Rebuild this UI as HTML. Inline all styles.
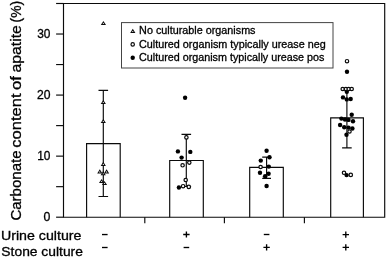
<!DOCTYPE html>
<html><head><meta charset="utf-8"><title>Carbonate content of apatite</title>
<style>
html,body{margin:0;padding:0;background:#fff}
svg{display:block}
text{font-family:"Liberation Sans",sans-serif;fill:#000;stroke:#000;stroke-width:0.3px}
</style></head><body>
<svg width="387" height="258" viewBox="0 0 387 258">
<rect width="387" height="258" fill="#fff"/>
<path d="M63.5 3.5H384.7V217.2H63.5Z" fill="none" stroke="#0a0a0a" stroke-width="1.15"/>
<path d="M56.1 217.20H63.5" stroke="#0a0a0a" stroke-width="1.15"/>
<path d="M56.1 186.67H63.5" stroke="#0a0a0a" stroke-width="1.15"/>
<path d="M56.1 156.14H63.5" stroke="#0a0a0a" stroke-width="1.15"/>
<path d="M56.1 125.61H63.5" stroke="#0a0a0a" stroke-width="1.15"/>
<path d="M56.1 95.08H63.5" stroke="#0a0a0a" stroke-width="1.15"/>
<path d="M56.1 64.55H63.5" stroke="#0a0a0a" stroke-width="1.15"/>
<path d="M56.1 34.02H63.5" stroke="#0a0a0a" stroke-width="1.15"/>
<path d="M56.1 3.49H63.5" stroke="#0a0a0a" stroke-width="1.15"/>
<path d="M144.8 217.2V223.3" stroke="#0a0a0a" stroke-width="1.15"/>
<path d="M224.4 217.2V223.3" stroke="#0a0a0a" stroke-width="1.15"/>
<path d="M304.4 217.2V223.3" stroke="#0a0a0a" stroke-width="1.15"/>
<text x="43.62" y="221.1" font-size="12.2" textLength="6.86" lengthAdjust="spacingAndGlyphs">0</text>
<text x="37.17" y="160.0" font-size="12.2" textLength="13.24" lengthAdjust="spacingAndGlyphs">10</text>
<text x="36.9" y="99.0" font-size="12.2" textLength="13.51" lengthAdjust="spacingAndGlyphs">20</text>
<text x="37.16" y="37.9" font-size="12.2" textLength="13.25" lengthAdjust="spacingAndGlyphs">30</text>
<text transform="translate(21.2,220.0) rotate(-90)" x="-0.63" y="0" font-size="14.9" textLength="70.18" lengthAdjust="spacingAndGlyphs">Carbonate</text>
<text transform="translate(21.2,147.1) rotate(-90)" x="-0.55" y="0" font-size="14.9" textLength="54.14" lengthAdjust="spacingAndGlyphs">content</text>
<text transform="translate(21.2,89.5) rotate(-90)" x="-0.56" y="0" font-size="14.9" textLength="14.04" lengthAdjust="spacingAndGlyphs">of</text>
<text transform="translate(21.2,72.1) rotate(-90)" x="-0.53" y="0" font-size="14.9" textLength="47.53" lengthAdjust="spacingAndGlyphs">apatite</text>
<text transform="translate(21.2,21.7) rotate(-90)" x="-0.7" y="0" font-size="14.9" textLength="21.54" lengthAdjust="spacingAndGlyphs">(%)</text>
<path d="M86.6 217.2V143.6H120.2V217.2" fill="none" stroke="#0a0a0a" stroke-width="1.15"/>
<path d="M169.7 217.2V160.5H203.3V217.2" fill="none" stroke="#0a0a0a" stroke-width="1.15"/>
<path d="M249.7 217.2V167.4H283.3V217.2" fill="none" stroke="#0a0a0a" stroke-width="1.15"/>
<path d="M330.7 217.2V117.9H363.4V217.2" fill="none" stroke="#0a0a0a" stroke-width="1.15"/>
<path d="M103.3 90.3V196.5M98.5 90.3H108.1M98.5 196.5H108.1" fill="none" stroke="#0a0a0a" stroke-width="1.15"/>
<path d="M186.3 134.3V186.5M181.5 134.3H191.10000000000002M181.5 186.5H191.10000000000002" fill="none" stroke="#0a0a0a" stroke-width="1.15"/>
<path d="M266.6 157.1V178.4M262.20000000000005 157.1H271.0M262.20000000000005 178.4H271.0" fill="none" stroke="#0a0a0a" stroke-width="1.15"/>
<path d="M346.9 89.8V147.9M342.09999999999997 89.8H351.7M342.09999999999997 147.9H351.7" fill="none" stroke="#0a0a0a" stroke-width="1.15"/>
<path d="M103.40 20.90L100.80 25.10L106.00 25.10Z" fill="#0a0a0a"/><path d="M103.40 22.80L102.60 24.10L104.20 24.10Z" fill="#fff"/>
<path d="M103.30 99.90L100.70 104.10L105.90 104.10Z" fill="#0a0a0a"/><path d="M103.30 101.80L102.50 103.10L104.10 103.10Z" fill="#fff"/>
<path d="M103.30 118.90L100.70 123.10L105.90 123.10Z" fill="#0a0a0a"/><path d="M103.30 120.80L102.50 122.10L104.10 122.10Z" fill="#fff"/>
<path d="M103.30 161.70L100.70 165.90L105.90 165.90Z" fill="#0a0a0a"/><path d="M103.30 163.60L102.50 164.90L104.10 164.90Z" fill="#fff"/>
<path d="M99.80 169.20L97.20 173.40L102.40 173.40Z" fill="#0a0a0a"/><path d="M99.80 171.10L99.00 172.40L100.60 172.40Z" fill="#fff"/>
<path d="M106.60 169.20L104.00 173.40L109.20 173.40Z" fill="#0a0a0a"/><path d="M106.60 171.10L105.80 172.40L107.40 172.40Z" fill="#fff"/>
<path d="M103.20 171.10L100.60 175.30L105.80 175.30Z" fill="#0a0a0a"/><path d="M103.20 173.00L102.40 174.30L104.00 174.30Z" fill="#fff"/>
<path d="M101.60 178.90L99.00 183.10L104.20 183.10Z" fill="#0a0a0a"/><path d="M101.60 180.80L100.80 182.10L102.40 182.10Z" fill="#fff"/>
<path d="M104.50 180.90L101.90 185.10L107.10 185.10Z" fill="#0a0a0a"/><path d="M104.50 182.80L103.70 184.10L105.30 184.10Z" fill="#fff"/>
<circle cx="177.9" cy="151.4" r="2.2" fill="#000"/>
<circle cx="190.3" cy="151.9" r="2.2" fill="#000"/>
<circle cx="181.6" cy="157.6" r="2.2" fill="#000"/>
<circle cx="178.9" cy="187.5" r="2.2" fill="#000"/>
<circle cx="185.1" cy="97.8" r="2.2" fill="#000"/>
<circle cx="186.4" cy="137.4" r="1.7" fill="#fff" stroke="#0a0a0a" stroke-width="1.2"/>
<circle cx="189.3" cy="162.6" r="1.7" fill="#fff" stroke="#0a0a0a" stroke-width="1.2"/>
<circle cx="182.6" cy="165.3" r="1.7" fill="#fff" stroke="#0a0a0a" stroke-width="1.2"/>
<circle cx="185.7" cy="180" r="1.7" fill="#fff" stroke="#0a0a0a" stroke-width="1.2"/>
<circle cx="183.1" cy="186.2" r="1.7" fill="#fff" stroke="#0a0a0a" stroke-width="1.2"/>
<circle cx="188.8" cy="186.9" r="1.7" fill="#fff" stroke="#0a0a0a" stroke-width="1.2"/>
<circle cx="266.6" cy="150.7" r="2.2" fill="#000"/>
<circle cx="269.5" cy="157.3" r="2.2" fill="#000"/>
<circle cx="260.8" cy="160.6" r="2.2" fill="#000"/>
<circle cx="268.8" cy="166.6" r="2.2" fill="#000"/>
<circle cx="260" cy="172.8" r="2.2" fill="#000"/>
<circle cx="268.6" cy="173.8" r="2.2" fill="#000"/>
<circle cx="265.1" cy="176.3" r="2.2" fill="#000"/>
<circle cx="266.6" cy="186" r="2.2" fill="#000"/>
<circle cx="260.6" cy="167" r="1.7" fill="#fff" stroke="#0a0a0a" stroke-width="1.2"/>
<circle cx="347.0" cy="71.7" r="2.2" fill="#000"/>
<circle cx="346.8" cy="91.8" r="2.2" fill="#000"/>
<circle cx="343" cy="97.4" r="2.2" fill="#000"/>
<circle cx="346.8" cy="99.4" r="2.2" fill="#000"/>
<circle cx="350.7" cy="99" r="2.2" fill="#000"/>
<circle cx="351.7" cy="114.7" r="2.2" fill="#000"/>
<circle cx="341.4" cy="118.6" r="2.2" fill="#000"/>
<circle cx="345" cy="119.5" r="2.2" fill="#000"/>
<circle cx="348.5" cy="119.9" r="2.2" fill="#000"/>
<circle cx="353" cy="121.2" r="2.2" fill="#000"/>
<circle cx="340.1" cy="125" r="2.2" fill="#000"/>
<circle cx="344.2" cy="127.2" r="2.2" fill="#000"/>
<circle cx="348.5" cy="127.6" r="2.2" fill="#000"/>
<circle cx="352.4" cy="128.5" r="2.2" fill="#000"/>
<circle cx="346.5" cy="134.7" r="2.2" fill="#000"/>
<circle cx="346.6" cy="175.1" r="2.2" fill="#000"/>
<circle cx="347.0" cy="61.2" r="1.7" fill="#fff" stroke="#0a0a0a" stroke-width="1.2"/>
<circle cx="342.7" cy="89" r="1.7" fill="#fff" stroke="#0a0a0a" stroke-width="1.2"/>
<circle cx="345.9" cy="89" r="1.7" fill="#fff" stroke="#0a0a0a" stroke-width="1.2"/>
<circle cx="348.7" cy="89" r="1.7" fill="#fff" stroke="#0a0a0a" stroke-width="1.2"/>
<circle cx="351.7" cy="89" r="1.7" fill="#fff" stroke="#0a0a0a" stroke-width="1.2"/>
<circle cx="349.5" cy="131.5" r="1.7" fill="#fff" stroke="#0a0a0a" stroke-width="1.2"/>
<circle cx="344.0" cy="172.8" r="1.7" fill="#fff" stroke="#0a0a0a" stroke-width="1.2"/>
<circle cx="350.8" cy="174.9" r="1.7" fill="#fff" stroke="#0a0a0a" stroke-width="1.2"/>
<rect x="121.5" y="22.6" width="211.5" height="45.4" fill="#fff" stroke="#444" stroke-width="1"/>
<path d="M132.80 28.80L130.20 33.00L135.40 33.00Z" fill="#0a0a0a"/><path d="M132.80 30.70L132.00 32.00L133.60 32.00Z" fill="#fff"/>
<circle cx="132.7" cy="44.4" r="1.7" fill="#fff" stroke="#0a0a0a" stroke-width="1.2"/>
<circle cx="132.7" cy="57.8" r="2.2" fill="#000"/>
<text x="139.14" y="34.0" font-size="10.6" textLength="116.4" lengthAdjust="spacingAndGlyphs">No culturable organisms</text>
<text x="139.02" y="47.7" font-size="10.6" textLength="186.81" lengthAdjust="spacingAndGlyphs">Cultured organism typically urease neg</text>
<text x="139.02" y="61.4" font-size="10.6" textLength="185.38" lengthAdjust="spacingAndGlyphs">Cultured organism typically urease pos</text>
<text x="0.97" y="239.9" font-size="13.3" textLength="80.48" lengthAdjust="spacingAndGlyphs">Urine culture</text>
<text x="1.38" y="255.7" font-size="13.3" textLength="81.52" lengthAdjust="spacingAndGlyphs">Stone culture</text>
<path d="M102.0 234.55H107.6" stroke="#000" stroke-width="1.35" fill="none"/>
<path d="M102.0 247.5H107.6" stroke="#000" stroke-width="1.35" fill="none"/>
<path d="M183.20000000000002 234.5H189.6M186.4 231.4V237.6" stroke="#000" stroke-width="1.35" fill="none"/>
<path d="M183.6 247.5H189.20000000000002" stroke="#000" stroke-width="1.35" fill="none"/>
<path d="M263.8 234.5H269.40000000000003" stroke="#000" stroke-width="1.35" fill="none"/>
<path d="M263.40000000000003 247.4H269.8M266.6 244.3V250.5" stroke="#000" stroke-width="1.35" fill="none"/>
<path d="M342.6 234.6H349.0M345.8 231.5V237.7" stroke="#000" stroke-width="1.35" fill="none"/>
<path d="M342.6 247.4H349.0M345.8 244.3V250.5" stroke="#000" stroke-width="1.35" fill="none"/>
</svg>
</body></html>
